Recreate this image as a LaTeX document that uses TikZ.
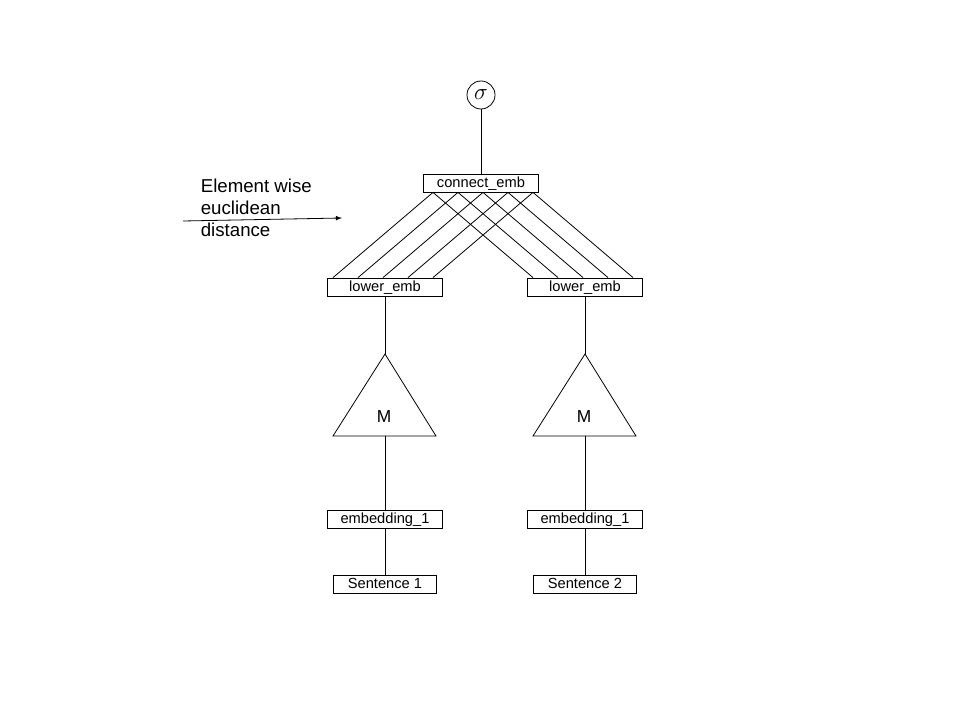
\documentclass[tikz,border=0pt]{standalone}
\usepackage{fontspec}
\setmainfont{Liberation Sans}
\usetikzlibrary{arrows}

\begin{document}
\begin{tikzpicture}[x=0.75pt, y=-0.75pt, line width=0.6pt]

\useasboundingbox (0,0) rectangle (960,720);

\tikzstyle{embbox} = [draw, inner sep=0pt, minimum width=86pt, minimum height=13.5pt, text height=10pt, text depth=3.5pt, font=\fontsize{11}{13}\selectfont]
\tikzstyle{sentbox} = [embbox, minimum width=77pt]

%Sigma on top
\node[draw, circle, inner sep=0pt, minimum size=21pt, font=\fontsize{17}{19}\selectfont] (sig) at (481,95) {$\sigma$};
\node[embbox] (conn) at (481,183) {connect\_emb};
\draw (sig) -- (conn);

%Side note
\node[align=left, anchor=west, font=\fontsize{14}{16.5}\selectfont] (note) at (196,208) {Element wise\\euclidean\\distance};
\coordinate (arrS) at (183,221);
\coordinate (arrE) at (342,218);
\draw[-latex] (arrS) -- (arrE);

%Lower embeddings
\node[embbox] (lowL) at (385,287) {lower\_emb};
\node[embbox] (lowR) at (585,287) {lower\_emb};

%% crossing lines
\foreach \i in {0,...,4}
{
\draw ([shift={(-48+25*\i,0)}]conn.south) -- ([shift={(-52+25*\i,0)}]lowL.north);
\draw ([shift={(-48+25*\i,0)}]conn.south) -- ([shift={(-52+25*\i,0)}]lowR.north);
}

% Left model
\coordinate (topL) at (385,354);
\coordinate (botL) at (385,436);
\draw (topL) -- (436,436) -- (333,436) -- cycle;
\node[font=\fontsize{13}{15}\selectfont] (mL) at (384,417) {M};

% Right model
\coordinate (topR) at (585,354);
\coordinate (botR) at (585,436);
\draw (topR) -- (636,436) -- (533,436) -- cycle;
\node[font=\fontsize{13}{15}\selectfont] (mR) at (584,417) {M};

% Inputs
\node[embbox] (embL) at (385,519) {embedding\_1};
\node[embbox] (embR) at (585,519) {embedding\_1};
\node[sentbox] (senL) at (385,584) {Sentence 1};
\node[sentbox] (senR) at (585,584) {Sentence 2};

\foreach \from/\to in {lowL/topL, botL/embL, embL/senL, lowR/topR, botR/embR, embR/senR}
\draw (\from) -- (\to);

\end{tikzpicture}
\end{document}
